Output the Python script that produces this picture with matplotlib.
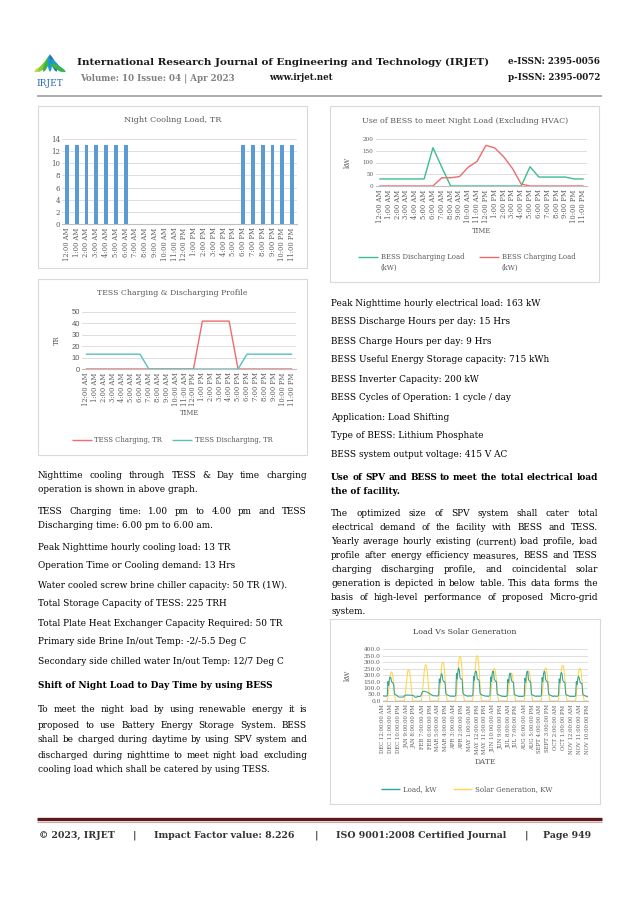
import math
import matplotlib
matplotlib.use('Agg')
import matplotlib.pyplot as plt
from matplotlib.patches import Rectangle, Ellipse
from matplotlib.lines import Line2D

# ------------------------------------------------------------------ data
hours = ['12:00 AM', '1:00 AM', '2:00 AM', '3:00 AM', '4:00 AM', '5:00 AM',
         '6:00 AM', '7:00 AM', '8:00 AM', '9:00 AM', '10:00 AM', '11:00 AM',
         '12:00 PM', '1:00 PM', '2:00 PM', '3:00 PM', '4:00 PM', '5:00 PM',
         '6:00 PM', '7:00 PM', '8:00 PM', '9:00 PM', '10:00 PM', '11:00 PM']

night_cooling_tr = [13, 13, 13, 13, 13, 13, 13, 0, 0, 0, 0, 0,
                    0, 0, 0, 0, 0, 0, 13, 13, 13, 13, 13, 13]

tess_charging_tr = [0, 0, 0, 0, 0, 0, 0, 0, 0, 0, 0, 0,
                    0, 42, 42, 42, 42, 0, 0, 0, 0, 0, 0, 0]
tess_discharging_tr = [13, 13, 13, 13, 13, 13, 13, 0, 0, 0, 0, 0,
                       0, 0, 0, 0, 0, 0, 13, 13, 13, 13, 13, 13]

bess_discharging_kw = [30, 30, 30, 30, 30, 30, 163, 80, 0, 0, 0, 0,
                       0, 0, 0, 0, 0, 82, 38, 38, 38, 38, 30, 30]
bess_charging_kw = [0, 0, 0, 0, 0, 0, 0, 35, 35, 40, 80, 105,
                    173, 162, 125, 75, 8, 0, 0, 0, 0, 0, 0, 0]

load_dec = [40, 38, 38, 37, 37, 38, 40, 150, 120, 165, 185, 180, 150, 145, 135, 130, 55, 50, 48, 45, 40, 35, 32, 30]
load_jan = [30, 30, 30, 30, 30, 32, 38, 44, 45, 45, 46, 46, 46, 45, 45, 45, 44, 44, 42, 40, 35, 30, 28, 28]
load_feb = [35, 35, 35, 35, 35, 40, 55, 68, 72, 75, 75, 74, 72, 70, 68, 65, 62, 58, 55, 52, 48, 45, 42, 40]
load_mar = [40, 40, 40, 38, 38, 40, 45, 170, 140, 185, 210, 200, 160, 150, 150, 140, 60, 50, 48, 45, 42, 40, 38, 35]
load_apr = [38, 38, 36, 36, 36, 38, 45, 210, 170, 225, 255, 240, 180, 170, 170, 160, 60, 52, 48, 45, 42, 40, 38, 36]
load_may = [40, 40, 38, 38, 38, 40, 48, 190, 160, 215, 230, 225, 175, 165, 165, 150, 60, 52, 50, 46, 44, 42, 40, 38]
load_jun = [38, 38, 36, 36, 36, 38, 45, 185, 150, 210, 230, 225, 165, 160, 150, 150, 55, 50, 48, 45, 42, 40, 38, 36]
load_jul = [36, 36, 35, 35, 35, 36, 42, 165, 140, 195, 215, 210, 160, 150, 145, 140, 50, 48, 45, 42, 40, 38, 36, 35]
load_aug = [36, 36, 35, 35, 35, 36, 42, 175, 145, 205, 230, 225, 165, 155, 150, 145, 52, 48, 45, 42, 40, 38, 36, 35]
load_sep = [38, 38, 36, 36, 36, 38, 44, 180, 150, 210, 230, 220, 165, 155, 150, 145, 55, 50, 46, 43, 40, 38, 36, 35]
load_oct = [38, 38, 36, 36, 36, 38, 44, 170, 140, 200, 220, 210, 160, 150, 145, 140, 52, 48, 45, 42, 40, 38, 36, 34]
load_nov = [36, 36, 35, 35, 35, 36, 40, 150, 125, 170, 190, 180, 150, 140, 135, 130, 50, 46, 44, 40, 38, 36, 34, 32]

solar_dec = [0, 0, 0, 0, 0, 0, 5, 30, 80, 140, 190, 215, 225, 215, 185, 140, 80, 25, 2, 0, 0, 0, 0, 0]
solar_jan = [0, 0, 0, 0, 0, 0, 5, 35, 90, 150, 200, 235, 240, 230, 195, 145, 85, 25, 2, 0, 0, 0, 0, 0]
solar_feb = [0, 0, 0, 0, 0, 0, 8, 45, 110, 180, 235, 270, 280, 270, 230, 170, 100, 35, 3, 0, 0, 0, 0, 0]
solar_mar = [0, 0, 0, 0, 0, 0, 10, 50, 120, 195, 255, 290, 300, 290, 250, 185, 110, 40, 3, 0, 0, 0, 0, 0]
solar_apr = [0, 0, 0, 0, 0, 0, 12, 60, 140, 225, 295, 335, 345, 335, 290, 215, 125, 45, 4, 0, 0, 0, 0, 0]
solar_may = [0, 0, 0, 0, 0, 0, 12, 60, 145, 230, 300, 340, 350, 340, 295, 220, 130, 45, 4, 0, 0, 0, 0, 0]
solar_jun = [0, 0, 0, 0, 0, 0, 8, 45, 105, 165, 215, 242, 250, 242, 210, 160, 95, 35, 3, 0, 0, 0, 0, 0]
solar_jul = [0, 0, 0, 0, 0, 0, 6, 40, 90, 145, 185, 210, 215, 210, 180, 135, 80, 28, 2, 0, 0, 0, 0, 0]
solar_aug = [0, 0, 0, 0, 0, 0, 7, 42, 95, 155, 200, 225, 230, 225, 195, 145, 85, 30, 2, 0, 0, 0, 0, 0]
solar_sep = [0, 0, 0, 0, 0, 0, 8, 45, 105, 170, 220, 248, 255, 248, 215, 160, 95, 33, 3, 0, 0, 0, 0, 0]
solar_oct = [0, 0, 0, 0, 0, 0, 8, 50, 115, 185, 240, 268, 275, 268, 230, 170, 100, 35, 3, 0, 0, 0, 0, 0]
solar_nov = [0, 0, 0, 0, 0, 0, 7, 45, 105, 170, 220, 245, 250, 245, 210, 155, 90, 30, 2, 0, 0, 0, 0, 0]

date_labels = ['DEC 12:00:00 AM', 'DEC 11:00:00 AM', 'DEC 10:00:00 PM', 'JAN 9:00:00 AM',
               'JAN 8:00:00 PM', 'FEB 7:00:00 AM', 'FEB 6:00:00 PM', 'MAR 5:00:00 AM',
               'MAR 4:00:00 PM', 'APR 3:00:00 AM', 'APR 2:00:00 PM', 'MAY 1:00:00 AM',
               'MAY 12:00:00 PM', 'MAY 11:00:00 PM', 'JUN 10:00:00 AM', 'JUN 9:00:00 PM',
               'JUL 8:00:00 AM', 'JUL 7:00:00 PM', 'AUG 6:00:00 AM', 'AUG 5:00:00 PM',
               'SEPT 4:00:00 AM', 'SEPT 3:00:00 PM', 'OCT 2:00:00 AM', 'OCT 1:00:00 PM',
               'NOV 12:00:00 AM', 'NOV 11:00:00 AM', 'NOV 10:00:00 PM']

load_kw = (load_dec + load_jan + load_feb + load_mar + load_apr + load_may +
           load_jun + load_jul + load_aug + load_sep + load_oct + load_nov)
solar_kw = (solar_dec + solar_jan + solar_feb + solar_mar + solar_apr + solar_may +
            solar_jun + solar_jul + solar_aug + solar_sep + solar_oct + solar_nov)

# ------------------------------------------------------------------ setup
W, H, DPI = 638, 902, 100
SERIF = 'DejaVu Serif'
SANS = 'Liberation Sans'
TXT = '#000000'
GTXT = '#595959'
GRID = '#D9D9D9'

fig = plt.figure(figsize=(W / DPI, H / DPI), dpi=DPI)
fig.patch.set_facecolor('white')
R = fig.canvas.get_renderer()


def measure(s, size, weight='normal', family=SERIF):
    t = fig.text(0, 0, s, fontsize=size, fontweight=weight, family=family)
    w = t.get_window_extent(renderer=R).width
    t.remove()
    return w


def fit(s, target, weight='normal', family=SERIF):
    return 10.0 * target / measure(s, 10.0, weight, family)


def put(x, y, s, size, weight='normal', family=SERIF, color=TXT, ha='left', rot=0):
    fig.text(x / W, 1 - y / H, s, fontsize=size, fontweight=weight, family=family,
             color=color, ha=ha, va='center', rotation=rot)


def justify(x0, x1, y, line, size, weight='normal'):
    words = line.split()
    ws = [measure(w, size, weight) for w in words]
    s = size
    gap = (x1 - x0 - sum(ws)) / (len(words) - 1)
    if gap < 2.2:
        s = size * (x1 - x0 - 2.2 * (len(words) - 1)) / sum(ws)
        ws = [w * s / size for w in ws]
        gap = 2.2
    x = x0
    for w, wd in zip(words, ws):
        put(x, y, w, s, weight)
        x += wd + gap


def rect(l, t, r, b):
    return [l / W, 1 - b / H, (r - l) / W, (b - t) / H]


def hline(x0, x1, y, color, lw):
    fig.add_artist(Line2D([x0 / W, x1 / W], [1 - y / H, 1 - y / H], color=color, lw=lw,
                          transform=fig.transFigure, solid_capstyle='butt'))


def box(l, t, r, b):
    fig.add_artist(Rectangle((l / W, 1 - b / H), (r - l) / W, (b - t) / H,
                             transform=fig.transFigure, fill=False, ec='#D9D9D9', lw=0.8))


def style(ax, xsize, ysize, yfam=SERIF):
    for sp in ['top', 'right', 'left']:
        ax.spines[sp].set_visible(False)
    ax.spines['bottom'].set_color('#BFBFBF')
    ax.spines['bottom'].set_linewidth(0.8)
    ax.tick_params(axis='both', length=0, colors=GTXT)
    ax.tick_params(axis='x', pad=2.5)
    ax.tick_params(axis='y', pad=1.5)
    ax.yaxis.grid(True, color=GRID, lw=0.6)
    ax.set_axisbelow(True)
    ax.set_facecolor('none')
    for lab in ax.get_xticklabels():
        lab.set_fontfamily(SERIF)
        lab.set_fontsize(xsize)
        lab.set_rotation(90)
    for lab in ax.get_yticklabels():
        lab.set_fontfamily(yfam)
        lab.set_fontsize(ysize)


# ------------------------------------------------------------------ header
lax = fig.add_axes(rect(34, 42, 66, 90))
lax.set_xlim(0, 32)
lax.set_ylim(48, 0)
lax.axis('off')
leaf_cols = ['#C5D93B', '#8DC63F', '#39B54A', '#1B9AD6', '#2B6CB5', '#1B9AD6', '#39B54A']
for i, ang in enumerate([-62, -42, -22, 0, 22, 42, 62]):
    a = math.radians(ang)
    cx = 16 + 9 * math.sin(a)
    cy = 30 - 9 * math.cos(a)
    lax.add_patch(Ellipse((cx, cy), 4.2, 17, angle=-ang, color=leaf_cols[i], lw=0))
lax.text(16, 42, 'IRJET', fontsize=6.5, family=SERIF, color='#2B6CB5', ha='center', va='center')

ts = fit('International Research Journal of Engineering and Technology (IRJET)', 414, 'bold')
put(77, 62, 'International Research Journal of Engineering and Technology (IRJET)', ts, 'bold', color='#1a1a1a')
iss = fit('e-ISSN: 2395-0056', 92, 'bold')
put(508, 62, 'e-ISSN: 2395-0056', iss, 'bold', color='#1a1a1a')
put(508, 78, 'p-ISSN: 2395-0072', iss, 'bold', color='#1a1a1a')
vs = fit('Volume: 10 Issue: 04 | Apr 2023', 155, 'bold')
put(80, 78, 'Volume: 10 Issue: 04 | Apr 2023', vs, 'bold', color='#808080')
put(269, 78, 'www.irjet.net', vs, 'bold', color='#1a1a1a')
hline(37, 602, 96, '#A6A6A6', 1.3)

# ------------------------------------------------------------------ chart 1
box(38, 106, 307, 268)
t1 = fit('Night Cooling Load, TR', 97)
put(172.5, 120, 'Night Cooling Load, TR', t1, color=GTXT, ha='center')
xs = fit('12:00 AM', 33)
ax1 = fig.add_axes(rect(62, 139, 297, 224))
ax1.bar(range(len(hours)), night_cooling_tr, width=0.4, color='#5B9BD5', zorder=3)
ax1.set_xlim(-0.5, 23.5)
ax1.set_ylim(0, 14)
ax1.set_yticks(range(0, 15, 2))
ax1.set_xticks(range(len(hours)), hours)
style(ax1, xs, xs * 1.05)

# ------------------------------------------------------------------ chart 2
box(38, 279, 307, 455)
t2 = fit('TESS Charging & Discharging Profile', 150)
put(172.5, 293, 'TESS Charging & Discharging Profile', t2, color=GTXT, ha='center')
ax2 = fig.add_axes(rect(82, 312, 296, 369))
ax2.plot(range(len(hours)), tess_charging_tr, color='#EE6B6E', lw=1.0)
ax2.plot(range(len(hours)), tess_discharging_tr, color='#56C2BD', lw=1.0)
ax2.set_xlim(-0.5, 23.5)
ax2.set_ylim(0, 50)
ax2.set_yticks(range(0, 51, 10))
ax2.set_xticks(range(len(hours)), hours)
style(ax2, xs, fit('50', 8.5, family=SANS), yfam=SANS)
ls = fit('TESS Charging, TR', 68)
put(57, 340, 'TR', ls, color=GTXT, ha='center', rot=90)
put(189, 413, 'TIME', fit('TIME', 19), color=GTXT, ha='center')
hline(72, 92, 440, '#EE6B6E', 1.0)
put(94, 440, 'TESS Charging, TR', ls, color=GTXT)
hline(172, 192, 440, '#56C2BD', 1.0)
put(195, 440, 'TESS Discharging, TR', ls, color=GTXT)

# ------------------------------------------------------------------ chart 3
box(330, 106, 599, 282)
t3 = fit('Use of BESS to meet Night Load (Excluding HVAC)', 204)
put(465, 121, 'Use of BESS to meet Night Load (Excluding HVAC)', t3, color=GTXT, ha='center')
ax3 = fig.add_axes(rect(375.6, 139, 587.4, 186))
ax3.plot(range(len(hours)), bess_discharging_kw, color='#3DBE8B', lw=1.0)
ax3.plot(range(len(hours)), bess_charging_kw, color='#EE6B6E', lw=1.0)
ax3.set_xlim(-0.5, 23.5)
ax3.set_ylim(0, 200)
ax3.set_yticks(range(0, 201, 50))
ax3.set_xticks(range(len(hours)), hours)
style(ax3, xs, fit('200', 10.7))
ls3 = fit('BESS Discharging Load', 84)
put(348, 162, 'kW', ls3, color=GTXT, ha='center', rot=90)
put(482, 231, 'TIME', fit('TIME', 19), color=GTXT, ha='center')
hline(358, 378, 257, '#3DBE8B', 1.0)
put(381, 257, 'BESS Discharging Load', ls3, color=GTXT)
put(381, 268, '(kW)', ls3, color=GTXT)
hline(479, 499, 257, '#EE6B6E', 1.0)
put(502, 257, 'BESS Charging Load', ls3, color=GTXT)
put(502, 268, '(kW)', ls3, color=GTXT)

# ------------------------------------------------------------------ chart 4
box(330, 619, 600, 804)
t4 = fit('Load Vs Solar Generation', 104)
put(465, 632, 'Load Vs Solar Generation', t4, color='#404040', ha='center')
ax4 = fig.add_axes(rect(382.6, 649, 588.1, 701))
ax4.plot(range(len(load_kw)), load_kw, color='#2FA39C', lw=0.75, zorder=3)
ax4.plot(range(len(solar_kw)), solar_kw, color='#FFD54A', lw=0.75, zorder=2)
ax4.set_xlim(-0.5, len(load_kw) - 0.5)
ax4.set_ylim(0, 400)
ax4.set_yticks(range(0, 401, 50), ['%.1f' % v for v in range(0, 401, 50)])
ax4.set_xticks(range(0, len(load_kw), 11)[:len(date_labels)], date_labels)
style(ax4, fit('DEC 12:00:00 AM', 49), fit('400.0', 16.5))
ls4 = fit('Solar Generation, KW', 78)
put(348, 675, 'kW', ls4, color=GTXT, ha='center', rot=90)
put(485, 762, 'DATE', fit('DATE', 21), color=GTXT, ha='center')
hline(381, 400, 789, '#2FA39C', 1.0)
put(403, 789, 'Load, kW', ls4, color=GTXT)
hline(453, 472, 789, '#FFD54A', 1.0)
put(475, 789, 'Solar Generation, KW', ls4, color=GTXT)

# ------------------------------------------------------------------ body text
BODY = fit('Peak Nighttime hourly cooling load: 13 TR', 192)
LX0, LX1 = 38, 307
RX0, RX1 = 331, 598

justify(LX0, LX1, 475, 'Nighttime cooling through TESS & Day time charging', BODY)
put(LX0, 489, 'operation is shown in above graph.', BODY)
justify(LX0, LX1, 511, 'TESS Charging time: 1.00 pm to 4.00 pm and TESS', BODY)
put(LX0, 525, 'Discharging time: 6.00 pm to 6.00 am.', BODY)
left_items = ['Peak Nighttime hourly cooling load: 13 TR',
              'Operation Time or Cooling demand: 13 Hrs',
              'Water cooled screw brine chiller capacity: 50 TR (1W).',
              'Total Storage Capacity of TESS: 225 TRH',
              'Total Plate Heat Exchanger Capacity Required: 50 TR',
              'Primary side Brine In/out Temp: -2/-5.5 Deg C',
              'Secondary side chilled water In/out Temp: 12/7 Deg C']
for i, s in enumerate(left_items):
    put(LX0, 547 + 19 * i, s, BODY)
put(LX0, 686, 'Shift of Night Load to Day Time by using BESS', BODY, 'bold')
para1 = ['To meet the night load by using renewable energy it is',
         'proposed to use Battery Energy Storage System. BESS',
         'shall be charged during daytime by using SPV system and',
         'discharged during nighttime to meet night load excluding']
for i, s in enumerate(para1):
    justify(LX0, LX1, 710 + 15 * i, s, BODY)
put(LX0, 770, 'cooling load which shall be catered by using TESS.', BODY)

right_items = ['Peak Nighttime hourly electrical load: 163 kW',
               'BESS Discharge Hours per day: 15 Hrs',
               'BESS Charge Hours per day: 9 Hrs',
               'BESS Useful Energy Storage capacity: 715 kWh',
               'BESS Inverter Capacity: 200 kW',
               'BESS Cycles of Operation: 1 cycle / day',
               'Application: Load Shifting',
               'Type of BESS: Lithium Phosphate',
               'BESS system output voltage: 415 V AC']
for i, s in enumerate(right_items):
    put(RX0, 303 + 19 * i, s, BODY)
justify(RX0, RX1, 477, 'Use of SPV and BESS to meet the total electrical load', BODY, 'bold')
put(RX0, 491, 'the of facility.', BODY, 'bold')
para2 = ['The optimized size of SPV system shall cater total',
         'electrical demand of the facility with BESS and TESS.',
         'Yearly average hourly existing (current) load profile, load',
         'profile after energy efficiency measures, BESS and TESS',
         'charging discharging profile, and coincidental solar',
         'generation is depicted in below table. This data forms the',
         'basis of high-level performance of proposed Micro-grid']
for i, s in enumerate(para2):
    justify(RX0, RX1, 514 + 14 * i, s, BODY)
put(RX0, 514 + 14 * 7, 'system.', BODY)

# ------------------------------------------------------------------ footer
hline(37, 602, 819, '#5C1A1D', 2.4)
hline(37, 602, 821.8, '#C8A8A8', 0.8)
fs = fit('ISO 9001:2008 Certified Journal', 171, 'bold')
FC = '#333333'
put(39, 835, '\u00a9 2023, IRJET', fs, 'bold', color=FC)
put(134, 835, '|', fs, 'bold', color=FC, ha='center')
put(154, 835, 'Impact Factor value: 8.226', fs, 'bold', color=FC)
put(316, 835, '|', fs, 'bold', color=FC, ha='center')
put(336, 835, 'ISO 9001:2008 Certified Journal', fs, 'bold', color=FC)
put(527, 835, '|', fs, 'bold', color=FC, ha='center')
put(543, 835, 'Page 949', fs, 'bold', color=FC)

fig.savefig('out.png', dpi=DPI, facecolor='white')
